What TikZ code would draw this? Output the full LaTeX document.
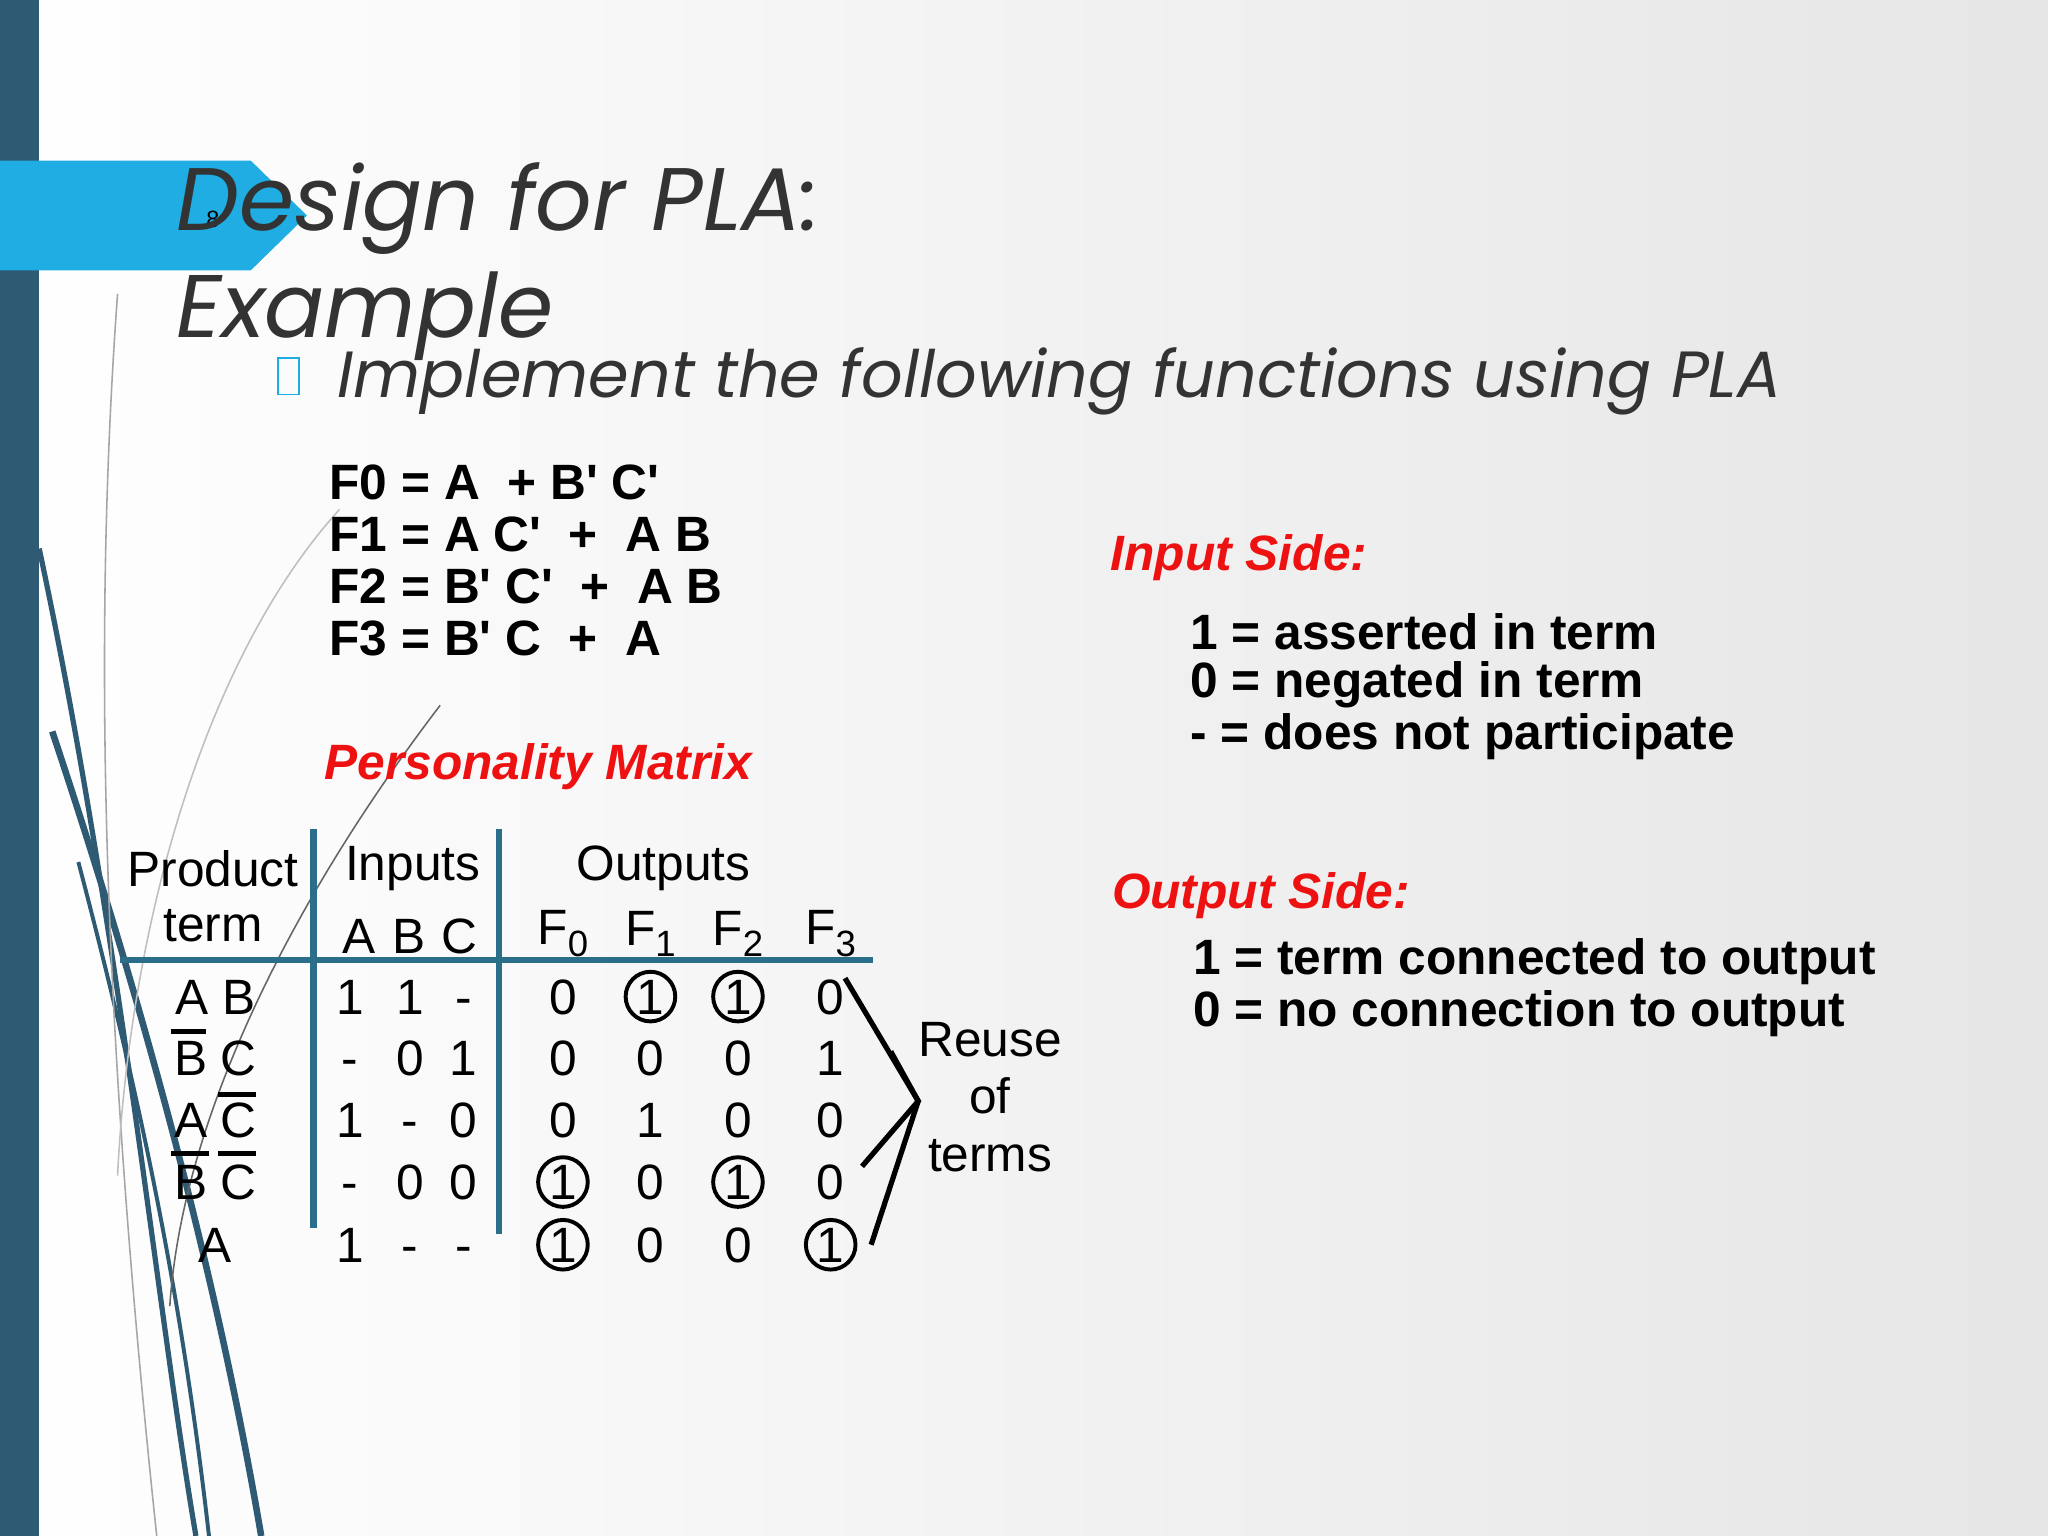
\documentclass[tikz,border=0pt]{standalone}
\usepackage{fontspec}
\setmainfont{Liberation Sans}[Ligatures=TeXOff]
\newfontfamily\titlefont{Poppins}
\definecolor{bar}{HTML}{2E5B73}
\definecolor{tab}{HTML}{1FADE3}
\definecolor{redt}{HTML}{EE1111}
\definecolor{txt}{HTML}{333333}
\definecolor{teal}{HTML}{2A6E8A}
\newcommand{\q}{\textquotesingle}
\newcommand{\sbs}[1]{\raisebox{-0.45ex}{\fontsize{14}{14}\selectfont #1}}
\begin{document}
\begin{tikzpicture}[x=0.5pt,y=-0.5pt,
  title/.style={anchor=west,font=\titlefont\itshape\fontsize{34}{38}\selectfont,text=txt,inner sep=0},
  eq/.style={anchor=west,font=\bfseries\fontsize{19}{22}\selectfont,inner sep=0},
  red/.style={anchor=west,font=\bfseries\itshape\fontsize{19}{22}\selectfont,text=redt,inner sep=0},
  cell/.style={font=\fontsize{19}{22}\selectfont,inner sep=0},
  dcell/.style={cell,text height=13.7pt,text depth=0pt},
  ring/.style={draw,circle,line width=1.5pt,minimum size=19pt,inner sep=0}]
\shade[left color=white,right color=black!10] (0,0) rectangle (1568,1176);
\useasboundingbox (0,0) rectangle (1568,1176);
\fill[bar] (0,0) rectangle (30,1176);
\fill[tab] (0,123) -- (192,123) -- (235,165) -- (192,207) -- (0,207) -- cycle;
\draw[bar,line width=2pt] (30,420) .. controls (90,700) and (120,1000) .. (150,1176);
\draw[bar,line width=2.5pt] (40,560) .. controls (120,800) and (170,1000) .. (200,1176);
\draw[bar,line width=1.5pt] (60,660) .. controls (110,850) and (140,1000) .. (160,1176);
\draw[black!35,line width=0.6pt] (90,225) .. controls (70,500) and (80,800) .. (120,1176);
\draw[black!25,line width=0.6pt] (260,390) .. controls (160,500) and (100,700) .. (90,900);
\draw[black!60,line width=0.6pt] (337,540) .. controls (230,680) and (140,850) .. (130,1000);
\node[font=\fontsize{9}{10}\selectfont] (num) at (163,168) {8};
\node[title] (t1) at (135,160) {Design for PLA:};
\node[title] (t2) at (135,242) {Example};
\node[draw=tab,line width=0.6pt,minimum width=8,minimum height=14,inner sep=0] (bul) at (221,288) {};
\node[title,font=\titlefont\itshape\fontsize{25}{30}\selectfont] (sub) at (258,292) {Implement the following functions using PLA};
\node[eq] (e0) at (252,369) {F0 = A \ + B\q\ C\q};
\node[eq] (e1) at (252,409) {F1 = A C\q\ \ + \ A B};
\node[eq] (e2) at (252,449) {F2 = B\q\ C\q\ \ + \ A B};
\node[eq] (e3) at (252,489) {F3 = B\q\ C \ + \ A};
\node[red] (pm) at (248,587) {Personality Matrix};
\node[red] (is) at (850,427) {Input Side:};
\node[eq] (i1) at (911,484) {1 = asserted in term};
\node[eq] (i2) at (911,524) {0 = negated in term};
\node[eq] (i3) at (911,564) {- = does not participate};
\node[red] (os) at (851,686) {Output Side:};
\node[eq] (o1) at (913,736) {1 = term connected to output};
\node[eq] (o2) at (913,776) {0 = no connection to output};
% matrix
\draw[teal,line width=2.5pt] (240,635) -- (240,940);
\draw[teal,line width=2.5pt] (382,635) -- (382,945);
\draw[teal,line width=2.5pt] (92,735) -- (668,735);
\node[cell] (hp) at (163,665) {Product};
\node[cell] (ht) at (163,709) {term};
\node[cell] (hi) at (316,665) {Inputs};
\node[cell] (ho) at (508,665) {Outputs};
\node[cell] (habc) at (314,717) {A\,\,B\,\,C};
\foreach \x/\i in {431/0,498/1,565/2,636/3} \node[cell] (hf\i) at (\x,715) {F\sbs{\i}};
\foreach \y/\p/\a/\b/\c/\f/\g/\h/\k [count=\r] in {
  763/A B/1/1/-/0/1/1/0,
  810/B C/-/0/1/0/0/0/1,
  857/A C/1/-/0/0/1/0/0,
  905/B C/-/0/0/1/0/1/0,
  953/A/1/-/-/1/0/0/1}{
  \node[dcell] (p\r) at (165,\y) {\p};
  \node[dcell] (a\r) at (268,\y) {\a};
  \node[dcell] (b\r) at (314,\y) {\b};
  \node[dcell] (c\r) at (355,\y) {\c};
  \node[dcell] (f\r) at (431,\y) {\f};
  \node[dcell] (g\r) at (498,\y) {\g};
  \node[dcell] (h\r) at (565,\y) {\h};
  \node[dcell] (k\r) at (636,\y) {\k};
}
\draw[line width=2pt] (131,790) -- (158,790);
\draw[line width=2pt] (167,838) -- (196,838);
\draw[line width=2pt] (131,883) -- (160,883);
\draw[line width=2pt] (167,883) -- (196,883);
\foreach \n in {g1,h1,f4,h4,f5,k5} \node[ring] at (\n) {};
\node[cell,align=center] (reuse) at (758,840) {Reuse\\of\\terms};
\coordinate (tip) at (703,843);
\draw[line width=2pt] (k1.north east) -- (tip) -- ([xshift=10]k5.east);
\draw[line width=2pt] (682,805) -- (tip) -- (660,893);
\end{tikzpicture}
\end{document}
